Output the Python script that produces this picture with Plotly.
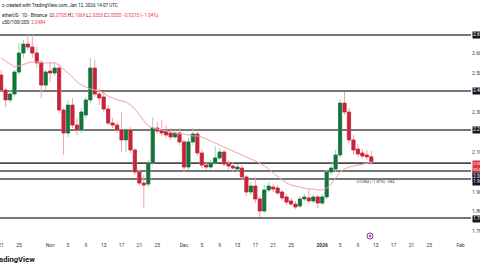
import plotly.graph_objects as go
import pandas as pd

# ---------------- data ----------------
dates = pd.date_range("2025-10-21", "2026-01-12", freq="D")

opens = [2.490, 2.414, 2.364, 2.394, 2.505, 2.601, 2.646, 2.631, 2.601, 2.551, 2.439,
         2.510, 2.500, 2.525, 2.313, 2.197, 2.338, 2.237, 2.212, 2.288, 2.364, 2.525, 2.394, 2.379, 2.318, 2.247,
         2.237, 2.212, 2.162, 2.212, 2.111, 2.000, 1.944, 1.939, 2.045, 2.222, 2.212, 2.207, 2.197, 2.177, 2.197,
         2.152, 2.025, 2.152, 2.192, 2.096, 2.035, 2.025, 2.045, 2.071, 2.101, 2.040, 2.030, 2.015, 2.020, 1.975,
         1.899, 1.929, 1.864, 1.803, 1.909, 1.924, 1.919, 1.899, 1.874, 1.854, 1.838, 1.828, 1.864, 1.869, 1.854, 1.874,
         1.843, 1.874, 2.000, 2.015, 2.086, 2.348, 2.303, 2.162, 2.116, 2.096, 2.086, 2.0765]
highs = [2.515, 2.424, 2.414, 2.515, 2.652, 2.667, 2.692, 2.692, 2.631, 2.566, 2.515,
         2.556, 2.556, 2.535, 2.323, 2.364, 2.374, 2.273, 2.323, 2.379, 2.576, 2.566, 2.424, 2.404, 2.338, 2.273,
         2.253, 2.303, 2.222, 2.227, 2.121, 2.010, 1.985, 2.061, 2.278, 2.253, 2.263, 2.237, 2.222, 2.212, 2.222,
         2.162, 2.172, 2.222, 2.212, 2.111, 2.051, 2.061, 2.131, 2.121, 2.111, 2.061, 2.051, 2.040, 2.035, 1.985,
         1.949, 1.975, 1.879, 1.934, 1.949, 1.939, 1.934, 1.909, 1.889, 1.869, 1.854, 1.879, 1.889, 1.919, 1.884, 1.884,
         1.889, 2.010, 2.045, 2.111, 2.364, 2.404, 2.323, 2.187, 2.141, 2.116, 2.111, 2.1069]
lows = [2.404, 2.328, 2.348, 2.379, 2.490, 2.576, 2.616, 2.576, 2.525, 2.374, 2.414,
        2.455, 2.485, 2.298, 2.086, 2.177, 2.222, 2.187, 2.197, 2.273, 2.348, 2.379, 2.338, 2.303, 2.237, 2.222,
        2.197, 2.101, 2.101, 2.096, 1.985, 1.929, 1.818, 1.924, 2.035, 2.192, 2.182, 2.172, 2.162, 2.167, 2.136,
        2.000, 2.010, 2.136, 2.081, 2.020, 2.010, 2.015, 2.035, 2.061, 2.030, 2.010, 2.000, 2.000, 1.960, 1.879,
        1.884, 1.843, 1.773, 1.793, 1.899, 1.899, 1.884, 1.854, 1.833, 1.828, 1.813, 1.818, 1.854, 1.843, 1.843, 1.818,
        1.833, 1.864, 1.985, 2.000, 2.071, 2.288, 2.146, 2.086, 2.076, 2.066, 2.061, 2.035]
closes = [2.414, 2.364, 2.394, 2.505, 2.601, 2.646, 2.631, 2.601, 2.551, 2.439, 2.505,
          2.500, 2.525, 2.313, 2.197, 2.338, 2.237, 2.212, 2.303, 2.364, 2.525, 2.394, 2.374, 2.318, 2.247, 2.237,
          2.212, 2.162, 2.212, 2.111, 2.000, 1.944, 1.934, 2.045, 2.222, 2.207, 2.197, 2.187, 2.177, 2.197, 2.152,
          2.025, 2.152, 2.192, 2.096, 2.035, 2.025, 2.045, 2.071, 2.101, 2.040, 2.030, 2.020, 2.025, 1.975, 1.899,
          1.929, 1.864, 1.803, 1.909, 1.929, 1.914, 1.894, 1.869, 1.848, 1.838, 1.823, 1.864, 1.874, 1.854, 1.874, 1.843,
          1.874, 2.000, 2.020, 2.086, 2.348, 2.303, 2.162, 2.111, 2.091, 2.081, 2.0765, 2.053]
ma_values = [2.576, 2.561, 2.545, 2.530, 2.535, 2.545, 2.551, 2.556, 2.556, 2.556, 2.551,
             2.551, 2.551, 2.540, 2.520, 2.505, 2.480, 2.455, 2.439, 2.429, 2.419, 2.414, 2.409, 2.399, 2.384, 2.374,
             2.364, 2.359, 2.354, 2.338, 2.318, 2.288, 2.258, 2.232, 2.222, 2.217, 2.212, 2.207, 2.202, 2.197, 2.192,
             2.192, 2.187, 2.182, 2.182, 2.177, 2.167, 2.157, 2.146, 2.136, 2.126, 2.116, 2.106, 2.096, 2.086, 2.076,
             2.066, 2.056, 2.045, 2.030, 2.015, 1.995, 1.975, 1.960, 1.944, 1.934, 1.929, 1.924, 1.919, 1.914, 1.914, 1.909,
             1.909, 1.919, 1.939, 1.970, 2.000, 2.015, 2.025, 2.030, 2.035, 2.040, 2.045, 2.0484]

levels = [2.6920, 2.4090, 2.2120, 2.0450, 2.0050, 1.9650, 1.7680]

tick_dates = ["2025-10-21", "2025-10-25", "2025-11-01", "2025-11-05", "2025-11-09", "2025-11-13",
              "2025-11-17", "2025-11-21", "2025-11-25", "2025-12-01", "2025-12-05", "2025-12-09",
              "2025-12-13", "2025-12-17", "2025-12-21", "2025-12-25", "2026-01-01", "2026-01-05",
              "2026-01-09", "2026-01-13", "2026-01-17", "2026-01-21", "2026-01-25", "2026-02-01"]
tick_text = ["21", "25", "Nov", "5", "9", "13", "17", "21", "25", "Dec", "5", "9", "13", "17",
             "21", "25", "<b>2026</b>", "5", "9", "13", "17", "21", "25", "Feb"]
y_ticks = [1.7, 1.8, 1.9, 2.1, 2.3, 2.5, 2.6]

# ---------------- figure ----------------
UP_BODY, DN_BODY = "#17713c", "#c4253a"
UP_WICK, DN_WICK = "#9ed3b0", "#f3a2ad"
FONT = "Roboto, Arial, sans-serif"
PLOT_W, PLOT_H = 471.0, 238.0
Y0, Y1 = 1.6667, 2.8687
PX = (Y1 - Y0) / PLOT_H  # price per pixel

fig = go.Figure()

# wicks (full range, light colours)
fig.add_trace(go.Candlestick(
    x=dates, open=opens, high=highs, low=lows, close=closes,
    increasing=dict(line=dict(color=UP_WICK, width=1), fillcolor=UP_WICK),
    decreasing=dict(line=dict(color=DN_WICK, width=1), fillcolor=DN_WICK),
    whiskerwidth=0, hoverinfo="skip", showlegend=False))

# bodies (dark colours)
body_hi = [max(o, c) for o, c in zip(opens, closes)]
body_lo = [min(o, c) for o, c in zip(opens, closes)]
fig.add_trace(go.Candlestick(
    x=dates, open=opens, high=body_hi, low=body_lo, close=closes,
    increasing=dict(line=dict(color=UP_BODY, width=0.6), fillcolor=UP_BODY),
    decreasing=dict(line=dict(color=DN_BODY, width=0.6), fillcolor=DN_BODY),
    whiskerwidth=0, hoverinfo="skip", showlegend=False))

# moving average
fig.add_trace(go.Scatter(x=dates, y=ma_values, mode="lines",
                         line=dict(color="#f3a0a8", width=1), hoverinfo="skip", showlegend=False))

# horizontal levels; labels stacked below the last-price box where they collide
label_shift_px = [0, 0, 0, 9.5, 5.5, 3.5, 1]
for lv, sh in zip(levels, label_shift_px):
    fig.add_shape(type="line", xref="paper", yref="y", x0=0, x1=1, y0=lv, y1=lv,
                  line=dict(color="#4a4a4a", width=1.6), layer="below")
    fig.add_annotation(xref="paper", yref="y", x=1 + 1 / PLOT_W, y=lv - sh * PX, xanchor="left",
                       yanchor="middle", text=f"{lv:.4f}", showarrow=False, bgcolor="#131722",
                       font=dict(family=FONT, size=4.5, color="white"), borderpad=0.3)

# last price box
fig.add_annotation(xref="paper", yref="y", x=1 + 1 / PLOT_W, y=closes[-1] + 2 * PX, xanchor="left",
                   yanchor="top", text="2.0530<br>09:52:47", showarrow=False, bgcolor="#e0343f",
                   align="left", font=dict(family=FONT, size=4, color="white"), borderpad=0.3)

# price range label
fig.add_annotation(xref="paper", yref="y", x=353 / PLOT_W, y=1.953, xanchor="left", yanchor="middle",
                   text="−0.0384 (−1.87%) −384", showarrow=False,
                   font=dict(family=FONT, size=3.8, color="#444"))

# header
RED = "#f23645"
fig.add_annotation(xref="paper", yref="paper", x=0, y=1 - 5.5 / PLOT_H, xanchor="left", yanchor="middle",
                   text="o created with TradingView.com, Jan 12, 2026 14:07 UTC", showarrow=False,
                   font=dict(family=FONT, size=4.6, color="#131722"))
fig.add_annotation(xref="paper", yref="paper", x=0, y=1 - 15 / PLOT_H, xanchor="left", yanchor="middle",
                   text=("etherUS · 1D · Binance  O<span style='color:%s'>2.0765</span> "
                         "H<span style='color:%s'>2.1069</span> L<span style='color:%s'>2.0350</span> "
                         "C<span style='color:%s'>2.0530</span> <span style='color:%s'>−0.0215 (−1.04%%)</span>")
                   % (RED, RED, RED, RED, RED), showarrow=False,
                   font=dict(family=FONT, size=4.6, color="#131722"))
fig.add_annotation(xref="paper", yref="paper", x=0, y=1 - 22.5 / PLOT_H, xanchor="left", yanchor="middle",
                   text="u50/100/200  <span style='color:%s'>2.0484</span>" % RED, showarrow=False,
                   font=dict(family=FONT, size=4.6, color="#131722"))

# TradingView logo text (cut at the left edge, as in the reference)
fig.add_annotation(xref="paper", yref="paper", x=37 / PLOT_W, y=(PLOT_H - 259) / PLOT_H, xanchor="right",
                   yanchor="middle", text="<b>TradingView</b>", showarrow=False,
                   font=dict(family=FONT, size=7.6, color="#131722"))

# event marker icon
fig.add_shape(type="circle", xref="paper", yref="paper",
              x0=367 / PLOT_W, x1=373 / PLOT_W, y0=(PLOT_H - 239) / PLOT_H, y1=(PLOT_H - 233) / PLOT_H,
              line=dict(color="#9c27b0", width=1), fillcolor="white")
fig.add_shape(type="circle", xref="paper", yref="paper",
              x0=369 / PLOT_W, x1=371 / PLOT_W, y0=(PLOT_H - 237) / PLOT_H, y1=(PLOT_H - 235) / PLOT_H,
              line=dict(color="#9c27b0", width=0.6), fillcolor="#e040fb")

x_start = pd.Timestamp("2025-10-21") - pd.Timedelta(hours=6)
x_end = x_start + pd.Timedelta(days=PLOT_W / 4.46)

fig.update_layout(
    width=480, height=270,
    margin=dict(l=0, r=480 - PLOT_W, t=0, b=270 - PLOT_H, autoexpand=False),
    paper_bgcolor="white", plot_bgcolor="white",
    font=dict(family=FONT, size=5, color="#333"),
    boxgap=0.1, boxgroupgap=0.2,
    xaxis=dict(type="date", range=[x_start, x_end], rangeslider=dict(visible=False), automargin=False,
               tickvals=tick_dates, ticktext=tick_text, showgrid=False, zeroline=False,
               showline=False, ticks="", ticklabelstandoff=3, ticklabeloverflow="allow",
               tickfont=dict(size=5, color="#333")),
    yaxis=dict(side="right", range=[Y0, Y1], tickvals=y_ticks, tickformat=".4f", automargin=False,
               showgrid=False, zeroline=False, showline=False, ticks="", ticklabeloverflow="allow",
               tickfont=dict(size=5, color="#333")),
    hovermode=False,
)

fig.write_html("out.html")
